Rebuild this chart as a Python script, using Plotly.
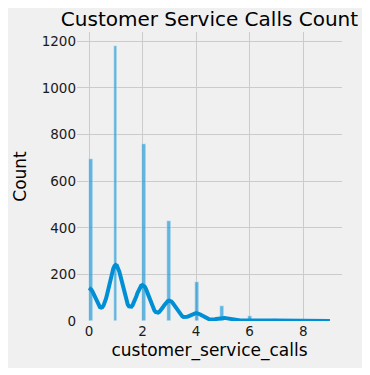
import numpy as np
import plotly.graph_objects as go

# Data: number of customer service calls and how many customers made each
call_values = [0, 1, 2, 3, 4, 5, 6, 7, 8, 9]
call_counts = [697, 1181, 759, 429, 166, 66, 22, 9, 2, 2]

title_text = "Customer Service Calls Count"
x_label = "customer_service_calls"
y_label = "Count"
x_tickvals = [0, 2, 4, 6, 8]
y_tickvals = [0, 200, 400, 600, 800, 1000, 1200]

# Rebuild observations and bin them as seaborn/numpy "auto" does
obs = np.repeat(np.array(call_values, dtype=float), call_counts)
edges = np.histogram_bin_edges(obs, bins="auto")
hist, edges = np.histogram(obs, bins=edges)
centers = (edges[:-1] + edges[1:]) / 2
bw_bin = edges[1] - edges[0]

# Gaussian KDE (Scott's rule), cut=0, scaled to counts
n = obs.size
std = obs.std(ddof=1)
bw = std * n ** (-1 / 5)
grid = np.linspace(obs.min(), obs.max(), 200)
vals = np.array(call_values, dtype=float)
w = np.array(call_counts, dtype=float)
dens = (w[None, :] * np.exp(-0.5 * ((grid[:, None] - vals[None, :]) / bw) ** 2)).sum(axis=1)
dens = dens / (n * bw * np.sqrt(2 * np.pi))
kde_y = dens * n * bw_bin

FONT = "DejaVu Sans"
BG = "#f0f0f0"

fig = go.Figure()
fig.add_trace(go.Bar(
    x=centers, y=hist, width=bw_bin,
    marker=dict(color="rgba(0,143,213,0.6)", line=dict(color=BG, width=0.5)),
    hoverinfo="skip", showlegend=False,
))
fig.add_trace(go.Scatter(
    x=grid, y=kde_y, mode="lines",
    line=dict(color="#008fd5", width=4),
    hoverinfo="skip", showlegend=False,
))

W, H = 355, 360
L, R, T, B = 67, 21, 24, 47

fig.update_layout(
    width=W, height=H,
    margin=dict(l=L, r=R, t=T, b=B, pad=0),
    paper_bgcolor=BG,
    plot_bgcolor=BG,
    bargap=0,
    font=dict(family=FONT, color="#1a1a1a", size=13),
    title=dict(
        text=title_text, x=0.5, xref="paper", xanchor="center",
        y=1 - 11 / H, yref="container", yanchor="middle",
        font=dict(family=FONT, size=20, color="#000000"),
    ),
    xaxis=dict(
        range=[-0.45, 9.45], tickvals=x_tickvals,
        showgrid=True, gridcolor="#cbcbcb", gridwidth=1,
        zeroline=False, showline=False, ticks="",
        tickfont=dict(size=13.5, color="#1a1a1a"),
        title=dict(text=x_label, font=dict(size=17, color="#000000"), standoff=6),
    ),
    yaxis=dict(
        range=[0, 1240], tickvals=y_tickvals,
        showgrid=True, gridcolor="#cbcbcb", gridwidth=1,
        zeroline=False, showline=False, ticks="",
        tickfont=dict(size=13.5, color="#1a1a1a"),
        title=dict(text=y_label, font=dict(size=17, color="#000000"), standoff=10),
    ),
)

fig.write_html("out.html")
